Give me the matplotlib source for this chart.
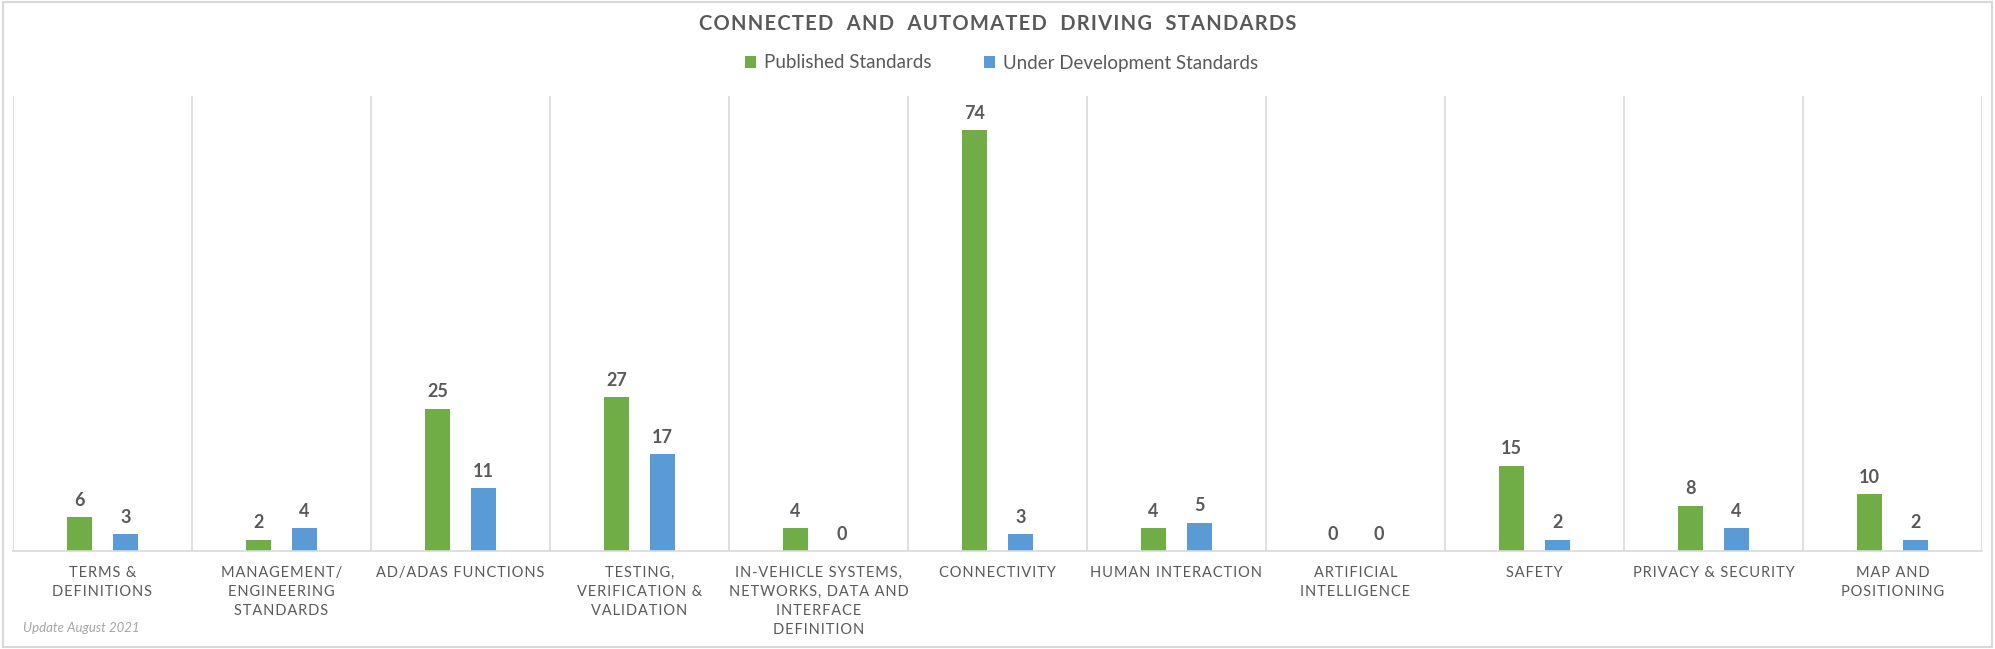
import numpy as np
import matplotlib
matplotlib.use("Agg")
import matplotlib.pyplot as plt
from matplotlib.patches import Rectangle

categories = [
    "TERMS &\nDEFINITIONS",
    "MANAGEMENT/\nENGINEERING\nSTANDARDS",
    "AD/ADAS FUNCTIONS",
    "TESTING,\nVERIFICATION &\nVALIDATION",
    "IN-VEHICLE SYSTEMS,\nNETWORKS, DATA AND\nINTERFACE\nDEFINITION",
    "CONNECTIVITY",
    "HUMAN INTERACTION",
    "ARTIFICIAL\nINTELLIGENCE",
    "SAFETY",
    "PRIVACY & SECURITY",
    "MAP AND\nPOSITIONING",
]
published = [6, 2, 25, 27, 4, 74, 4, 0, 15, 8, 10]
under_dev = [3, 4, 11, 17, 0, 3, 5, 0, 2, 4, 2]

GREEN = "#70AD47"
BLUE = "#5B9BD5"
TXT = "#595959"
GRID = "#d9d9d9"
FAM = ["Lato", "DejaVu Sans"]


def spaced(s, sp="\u200a"):
    # fake letter tracking with hair spaces
    return "\n".join(sp.join(line) for line in s.split("\n"))


fig = plt.figure(figsize=(19.95, 6.49), dpi=100)
fig.patches.append(Rectangle((0.0015, 0.003), 0.997, 0.994, transform=fig.transFigure,
                             fill=False, edgecolor=GRID, lw=1.5))
ax = fig.add_axes([13 / 1995, 98 / 649, 1969 / 1995, 455 / 649])

x = np.arange(len(categories))
w = 0.14
off = 0.128
b1 = ax.bar(x - off, published, w, color=GREEN, label="Published Standards")
b2 = ax.bar(x + off, under_dev, w, color=BLUE, label="Under Development Standards")
for bars in (b1, b2):
    ax.bar_label(bars, padding=6, color=TXT, fontsize=13, fontweight="bold", family=FAM)

ax.set_xlim(-0.5, len(categories) - 0.5)
ax.set_ylim(0, 80)
ax.set_yticks([])
ax.set_xticks(x)
ax.set_xticklabels([spaced(c) for c in categories], family=FAM, fontsize=10.5,
                   color=TXT, linespacing=1.45, va="top")
ax.set_xticks(np.arange(len(categories) + 1) - 0.5, minor=True)
ax.tick_params(axis="x", which="major", length=0, pad=11)
ax.tick_params(axis="x", which="minor", length=0)
ax.grid(axis="x", which="minor", color=GRID, lw=1.2)
ax.set_axisbelow(True)
for s in ("top", "left", "right"):
    ax.spines[s].set_visible(False)
ax.spines["bottom"].set_color(GRID)
ax.spines["bottom"].set_linewidth(1.2)

fig.text(0.5, 1 - 24 / 649, spaced("CONNECTED  AND  AUTOMATED  DRIVING  STANDARDS"),
         ha="center", va="center", family=FAM, fontsize=14.5, fontweight="bold", color=TXT)
fig.legend(handles=[b1, b2], loc="center", bbox_to_anchor=(0.502, 1 - 63 / 649),
           ncol=2, frameon=False, prop={"family": FAM, "size": 13.5},
           labelcolor=TXT, handlelength=0.6, handleheight=0.6, handletextpad=0.4,
           columnspacing=2.8)
fig.text(23 / 1995, 1 - 628 / 649, "Update August 2021", ha="left", va="center",
         family=FAM, fontsize=9.5, style="italic", color="#a6a6a6")

fig.savefig("out.png", dpi=100)
